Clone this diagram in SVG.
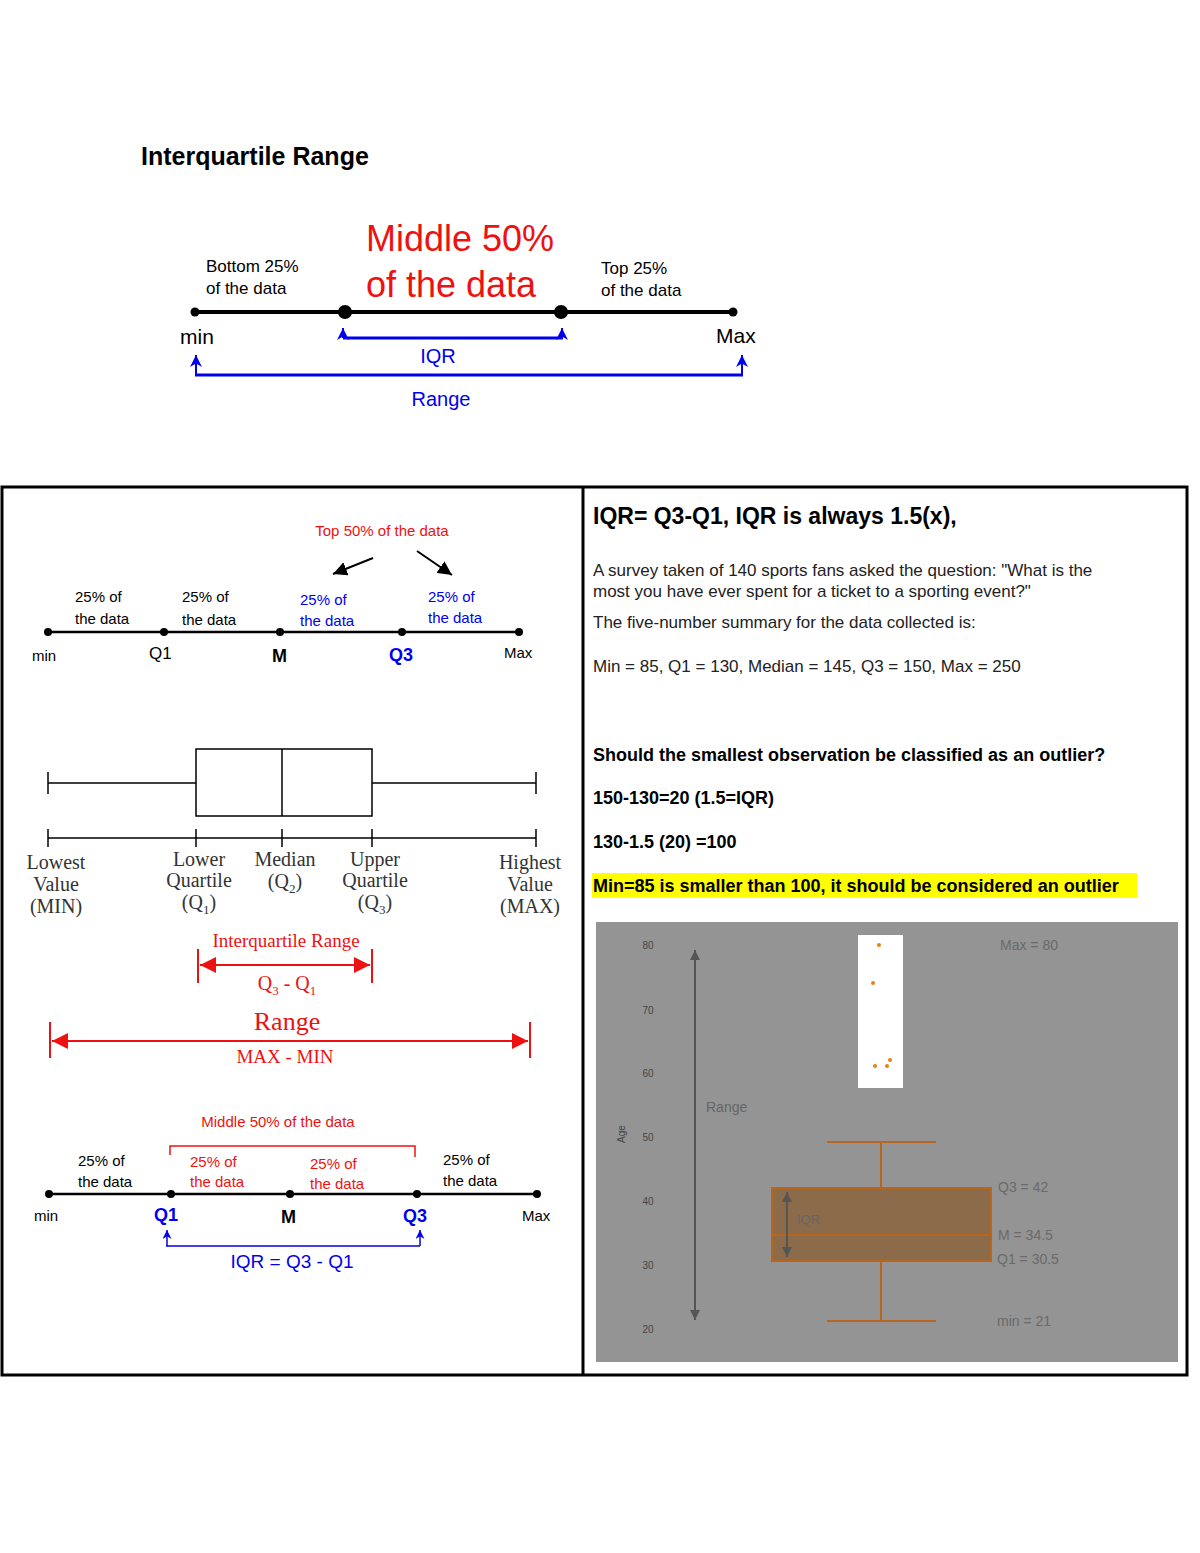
<svg xmlns="http://www.w3.org/2000/svg" width="1200" height="1553" viewBox="0 0 1200 1553">
<style>
.s{font-family:"Liberation Sans",Arial,sans-serif}
.sr{font-family:"Liberation Serif","Times New Roman",serif}
.k{stroke:#000;fill:none}
.b{stroke:#0000ee;fill:none}
.r{stroke:#ee1111;fill:none}
.o{stroke:#b8661e;fill:none;stroke-width:2}
</style>
<defs>
<marker id="ab" viewBox="0 0 10 10" refX="10" refY="5" markerWidth="6" markerHeight="6" orient="auto"><path d="M0,0 L10,5 L0,10 L3,5z" fill="#0000ee"/></marker>
<marker id="ar" viewBox="0 0 10 10" refX="10" refY="5" markerWidth="8" markerHeight="8" orient="auto-start-reverse"><path d="M0,0 L10,5 L0,10z" fill="#ee1111"/></marker>
<marker id="ak" viewBox="0 0 10 10" refX="10" refY="5" markerWidth="7" markerHeight="7" orient="auto"><path d="M0,0 L10,5 L0,10z" fill="#000"/></marker>
<marker id="ag" viewBox="0 0 10 10" refX="10" refY="5" markerWidth="5" markerHeight="5" orient="auto-start-reverse"><path d="M0,0 L10,5 L0,10z" fill="#555"/></marker>
</defs>
<rect width="1200" height="1553" fill="#fff"/>
<text x="141" y="165" class="s" font-size="25" font-weight="bold">Interquartile Range</text>

<g id="top-diagram">
<line x1="195" y1="312" x2="733" y2="312" class="k" stroke-width="4"/>
<circle cx="195" cy="312" r="4.5"/><circle cx="733" cy="312" r="4.5"/>
<circle cx="345" cy="312" r="7"/><circle cx="561" cy="312" r="7"/>
<text x="206" y="272" class="s" font-size="17">Bottom 25%</text>
<text x="206" y="294" class="s" font-size="17">of the data</text>
<text x="601" y="274" class="s" font-size="17">Top 25%</text>
<text x="601" y="296" class="s" font-size="17">of the data</text>
<text x="366" y="251" class="s" font-size="36" fill="#ee1111">Middle 50%</text>
<text x="366" y="297" class="s" font-size="36" fill="#ee1111">of the data</text>
<text x="180" y="344" class="s" font-size="21">min</text>
<text x="716" y="343" class="s" font-size="21">Max</text>
<line x1="343" y1="338" x2="563" y2="338" class="b" stroke-width="3"/>
<line x1="343" y1="338" x2="343" y2="328" class="b" stroke-width="2" marker-end="url(#ab)"/>
<line x1="562" y1="338" x2="562" y2="328" class="b" stroke-width="2" marker-end="url(#ab)"/>
<text x="438" y="363" class="s" font-size="20" fill="#0000ee" text-anchor="middle">IQR</text>
<line x1="195" y1="375" x2="743" y2="375" class="b" stroke-width="3"/>
<line x1="196" y1="375" x2="196" y2="355" class="b" stroke-width="2" marker-end="url(#ab)"/>
<line x1="742" y1="375" x2="742" y2="355" class="b" stroke-width="2" marker-end="url(#ab)"/>
<text x="441" y="406" class="s" font-size="20" fill="#0000ee" text-anchor="middle">Range</text>
</g>

<g id="panels">
<rect x="2" y="487" width="1185" height="888" class="k" stroke-width="3"/>
<line x1="583" y1="487" x2="583" y2="1375" class="k" stroke-width="3"/>
</g>

<g id="top50-line">
<text x="382" y="536" class="s" font-size="15" fill="#ee1111" text-anchor="middle">Top 50% of the data</text>
<line x1="373" y1="558" x2="333" y2="574" class="k" stroke-width="2" marker-end="url(#ak)"/>
<line x1="417" y1="551" x2="452" y2="575" class="k" stroke-width="2" marker-end="url(#ak)"/>
<line x1="48" y1="632" x2="519" y2="632" class="k" stroke-width="2.5"/>
<g fill="#000"><circle cx="48" cy="632" r="4"/><circle cx="164" cy="632" r="4"/><circle cx="280" cy="632" r="4"/><circle cx="402" cy="632" r="4"/><circle cx="519" cy="632" r="4"/></g>
<g class="s" font-size="15">
<text x="75" y="602">25% of</text><text x="75" y="624">the data</text>
<text x="182" y="602">25% of</text><text x="182" y="625">the data</text>
<text x="300" y="605" fill="#0000ee">25% of</text><text x="300" y="626" fill="#0000ee">the data</text>
<text x="428" y="602" fill="#0000ee">25% of</text><text x="428" y="623" fill="#0000ee">the data</text>
<text x="32" y="661">min</text><text x="149" y="659" font-size="17">Q1</text>
<text x="272" y="662" font-size="18" font-weight="bold">M</text>
<text x="389" y="661" font-size="18" font-weight="bold" fill="#0000ee">Q3</text>
<text x="504" y="658">Max</text>
</g>
</g>

<g id="boxplot-left">
<line x1="48" y1="783" x2="196" y2="783" class="k" stroke-width="1.5"/>
<line x1="372" y1="783" x2="536" y2="783" class="k" stroke-width="1.5"/>
<line x1="48" y1="772" x2="48" y2="794" class="k" stroke-width="1.5"/>
<line x1="536" y1="772" x2="536" y2="794" class="k" stroke-width="1.5"/>
<rect x="196" y="749" width="176" height="67" class="k" stroke-width="1.5"/>
<line x1="282" y1="749" x2="282" y2="816" class="k" stroke-width="1.5"/>
<line x1="48" y1="838" x2="536" y2="838" class="k" stroke-width="1.5"/>
<g class="k" stroke-width="1.5"><line x1="48" y1="829" x2="48" y2="847"/><line x1="196" y1="829" x2="196" y2="847"/><line x1="282" y1="829" x2="282" y2="847"/><line x1="372" y1="829" x2="372" y2="847"/><line x1="536" y1="829" x2="536" y2="847"/></g>
<g class="sr" font-size="20" fill="#333" text-anchor="middle">
<text x="56" y="869">Lowest</text><text x="56" y="891">Value</text><text x="56" y="913">(MIN)</text>
<text x="199" y="866">Lower</text><text x="199" y="887">Quartile</text><text x="199" y="909">(Q<tspan font-size="13" dy="5">1</tspan><tspan dy="-5">)</tspan></text>
<text x="285" y="866">Median</text><text x="285" y="888">(Q<tspan font-size="13" dy="5">2</tspan><tspan dy="-5">)</tspan></text>
<text x="375" y="866">Upper</text><text x="375" y="887">Quartile</text><text x="375" y="909">(Q<tspan font-size="13" dy="5">3</tspan><tspan dy="-5">)</tspan></text>
<text x="530" y="869">Highest</text><text x="530" y="891">Value</text><text x="530" y="913">(MAX)</text>
</g>
<g class="sr" fill="#ee1111" text-anchor="middle">
<text x="286" y="947" font-size="19">Interquartile Range</text>
<text x="287" y="990" font-size="20">Q<tspan font-size="13" dy="5">3</tspan><tspan dy="-5"> - Q</tspan><tspan font-size="13" dy="5">1</tspan></text>
<text x="287" y="1030" font-size="26">Range</text>
<text x="285" y="1063" font-size="19">MAX  -  MIN</text>
</g>
<line x1="198" y1="949" x2="198" y2="983" class="r" stroke-width="2"/>
<line x1="372" y1="949" x2="372" y2="983" class="r" stroke-width="2"/>
<line x1="200" y1="965" x2="370" y2="965" class="r" stroke-width="2" marker-start="url(#ar)" marker-end="url(#ar)"/>
<line x1="50" y1="1022" x2="50" y2="1058" class="r" stroke-width="2"/>
<line x1="530" y1="1022" x2="530" y2="1058" class="r" stroke-width="2"/>
<line x1="52" y1="1041" x2="528" y2="1041" class="r" stroke-width="2" marker-start="url(#ar)" marker-end="url(#ar)"/>
</g>

<g id="middle50-line">
<text x="278" y="1127" class="s" font-size="15" fill="#ee1111" text-anchor="middle">Middle 50% of the data</text>
<polyline points="170,1155 170,1146 415,1146 415,1157" class="r" stroke-width="1.5"/>
<line x1="48" y1="1194" x2="538" y2="1194" class="k" stroke-width="2.5"/>
<g fill="#000"><circle cx="49" cy="1194" r="4"/><circle cx="171" cy="1194" r="4"/><circle cx="290" cy="1194" r="4"/><circle cx="417" cy="1194" r="4"/><circle cx="537" cy="1194" r="4"/></g>
<g class="s" font-size="15">
<text x="78" y="1166">25% of</text><text x="78" y="1187">the data</text>
<text x="190" y="1167" fill="#ee1111">25% of</text><text x="190" y="1187" fill="#ee1111">the data</text>
<text x="310" y="1169" fill="#ee1111">25% of</text><text x="310" y="1189" fill="#ee1111">the data</text>
<text x="443" y="1165">25% of</text><text x="443" y="1186">the data</text>
<text x="34" y="1221">min</text>
<text x="154" y="1221" font-size="18" font-weight="bold" fill="#0000ee">Q1</text>
<text x="281" y="1223" font-size="18" font-weight="bold">M</text>
<text x="403" y="1222" font-size="18" font-weight="bold" fill="#0000ee">Q3</text>
<text x="522" y="1221">Max</text>
</g>
<line x1="166" y1="1246" x2="420" y2="1246" class="b" stroke-width="1.5"/>
<line x1="167" y1="1246" x2="167" y2="1230" class="b" stroke-width="1.5" marker-end="url(#ab)"/>
<line x1="420" y1="1246" x2="420" y2="1230" class="b" stroke-width="1.5" marker-end="url(#ab)"/>
<text x="292" y="1268" class="s" font-size="19" fill="#0000ee" text-anchor="middle">IQR = Q3 - Q1</text>
</g>

<g id="right-text" class="s">
<text x="593" y="524" font-size="23" font-weight="bold">IQR= Q3-Q1, IQR is always 1.5(x),</text>
<text x="593" y="576" font-size="17" fill="#222">A survey taken of 140 sports fans asked the question: "What is the</text>
<text x="593" y="597" font-size="17" fill="#222">most you have ever spent for a ticket to a sporting event?"</text>
<text x="593" y="628" font-size="17" fill="#222">The five-number summary for the data collected is:</text>
<text x="593" y="672" font-size="17" fill="#222">Min = 85, Q1 = 130, Median = 145, Q3 = 150, Max = 250</text>
<text x="593" y="761" font-size="18" font-weight="bold">Should the smallest observation be classified as an outlier?</text>
<text x="593" y="804" font-size="18" font-weight="bold">150-130=20 (1.5=IQR)</text>
<text x="593" y="848" font-size="18" font-weight="bold">130-1.5 (20) =100</text>
<rect x="592" y="873" width="545" height="25" fill="#ffff00"/>
<text x="593" y="892" font-size="18" font-weight="bold">Min=85 is smaller than 100, it should be considered an outlier</text>
</g>

<g id="age-chart">
<rect x="596" y="922" width="582" height="440" fill="#949494"/>
<rect x="858" y="935" width="45" height="153" fill="#fff"/>
<g fill="#e8801a"><circle cx="879" cy="945" r="2"/><circle cx="873" cy="983" r="2"/><circle cx="875" cy="1066" r="2"/><circle cx="887" cy="1066" r="2"/><circle cx="890" cy="1060" r="2"/></g>
<g class="s" font-size="10" fill="#444" text-anchor="middle">
<text x="648" y="949">80</text><text x="648" y="1014">70</text><text x="648" y="1077">60</text><text x="648" y="1141">50</text><text x="648" y="1205">40</text><text x="648" y="1269">30</text><text x="648" y="1333">20</text>
<text x="625" y="1134" transform="rotate(-90 625 1134)">Age</text>
</g>
<line x1="695" y1="950" x2="695" y2="1320" stroke="#555" stroke-width="2" marker-start="url(#ag)" marker-end="url(#ag)"/>
<text x="706" y="1112" class="s" font-size="14" fill="#666">Range</text>
<line x1="827" y1="1142" x2="936" y2="1142" class="o"/>
<line x1="881" y1="1142" x2="881" y2="1188" class="o"/>
<rect x="772" y="1188" width="219" height="73" fill="#8b6b4a" stroke="#b8661e" stroke-width="2"/>
<line x1="772" y1="1235" x2="991" y2="1235" class="o"/>
<line x1="881" y1="1261" x2="881" y2="1321" class="o"/>
<line x1="827" y1="1321" x2="936" y2="1321" class="o"/>
<line x1="787" y1="1192" x2="787" y2="1257" stroke="#555" stroke-width="2" marker-start="url(#ag)" marker-end="url(#ag)"/>
<text x="797" y="1224" class="s" font-size="13" fill="#666">IQR</text>
<g class="s" font-size="14" fill="#6a6a6a">
<text x="1000" y="950">Max = 80</text>
<text x="998" y="1192">Q3 = 42</text>
<text x="998" y="1240">M = 34.5</text>
<text x="997" y="1264">Q1 = 30.5</text>
<text x="997" y="1326">min = 21</text>
</g>
</g>
</svg>
